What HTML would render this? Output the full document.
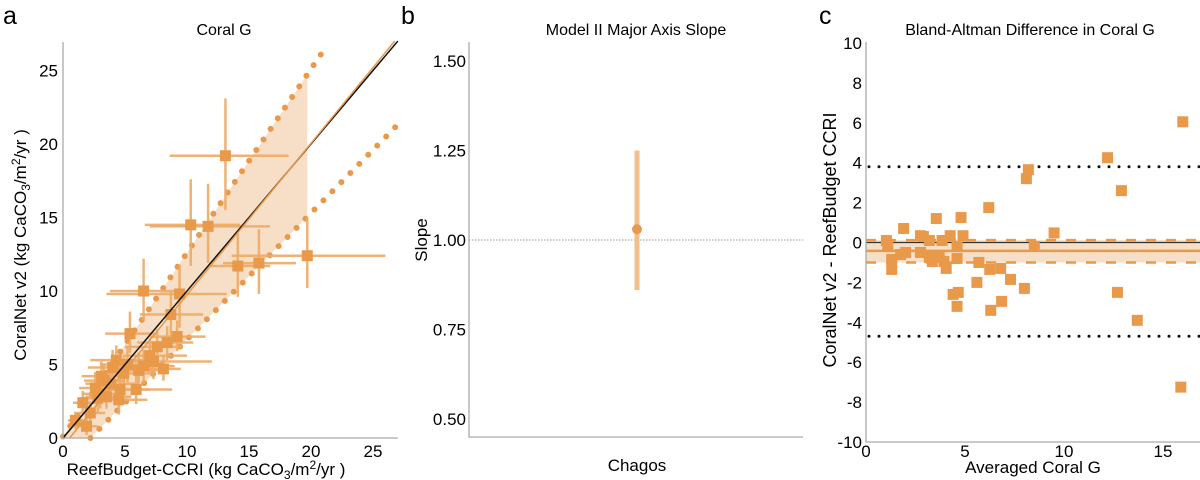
<!DOCTYPE html>
<html><head><meta charset="utf-8"><style>
body{margin:0;background:#fff;}
svg{display:block;font-family:"Liberation Sans",Arial,sans-serif;}
</style></head><body>
<svg id="chart" width="1200" height="480" viewBox="0 0 1200 480"></svg>
<script>
// ---------- Panel a data ----------
const aX   = [13.1,10.3,11.7,19.7,14.1,15.8,6.5,9.4,8.7,5.4,9.2,8.4,7.6,7.0,6.5,8.1,4.3,4.9,3.1,3.8,3.0,3.5,4.6,5.9,1.6,2.2,1.0,1.9,4.0,5.2,2.6,3.3,6.1,7.3,4.5,2.8];
const aY   = [19.2,14.5,14.4,12.4,11.7,11.9,10.0,9.8,8.4,7.1,6.9,6.5,6.2,5.6,4.9,4.7,5.3,4.4,4.2,3.7,3.0,2.8,3.3,3.3,2.4,1.7,1.2,0.8,4.8,5.0,3.4,3.9,4.6,5.2,2.6,2.7];
const aXlo = [8.6,6.6,7.0,13.6,11.9,12.9,3.8,3.5,6.2,3.4,7.0,6.0,5.0,4.8,4.0,6.5,2.2,2.5,1.5,1.8,1.5,1.8,2.8,3.6,0.8,1.2,0.4,1.0,2.0,3.0,1.3,1.7,4.0,5.2,2.5,1.4];
const aXhi = [18.2,14.3,16.7,26.0,16.7,18.8,9.4,13.2,11.3,7.5,11.5,10.5,9.6,10.0,9.0,9.5,6.5,7.2,5.0,5.8,4.8,5.5,7.0,8.8,2.6,3.4,1.8,2.8,6.4,7.8,4.2,5.0,8.2,12.0,6.8,4.5];
const aYlo = [15.5,11.7,11.9,10.2,9.6,9.8,8.0,7.5,6.9,5.8,5.9,5.3,5.0,4.5,3.7,3.9,4.2,3.4,3.1,2.6,2.0,2.0,2.3,2.3,1.6,0.9,0.6,0.2,3.5,3.8,2.4,2.8,3.5,4.0,1.6,1.7];
const aYhi = [23.1,17.6,17.3,15.0,13.9,14.2,12.2,11.8,10.0,8.6,8.0,7.6,7.4,6.8,6.0,5.6,6.3,5.5,5.2,4.8,4.0,3.8,4.4,4.3,3.2,2.5,1.8,1.4,6.0,6.2,4.4,5.0,5.8,6.4,3.6,3.8];
const aTicks = [0,5,10,15,20,25];
const fitSlope = 1.03, fitInt = -0.55;
const upSlope = 1.25, upInt = 0.1;
const loSlope = 0.86, loInt = -1.9;
const bandEnd = 19.7;
// ---------- Panel b data ----------
const bCats = ["Chagos"];
const bSlope = [1.03];
const bLo = [0.86];
const bHi = [1.25];
const bTicks = [0.50,0.75,1.00,1.25,1.50];
// ---------- Panel c data ----------
const cX = [16.0,12.2,8.2,8.1,12.9,6.2,3.55,4.8,1.9,9.5,2.75,2.9,4.25,4.9,3.84,3.2,1.03,1.1,8.5,4.6,2.0,2.75,1.75,1.3,3.2,3.35,3.7,3.93,4.6,5.7,1.3,4.05,6.25,6.8,5.6,7.3,8.0,12.7,4.4,4.66,4.6,6.85,6.3,13.7,15.9];
const cD = [6.05,4.25,3.65,3.2,2.6,1.75,1.2,1.25,0.7,0.48,0.34,0.3,0.34,0.34,0.1,0.1,0.1,-0.1,-0.2,-0.2,-0.5,-0.5,-0.6,-0.85,-0.75,-0.95,-0.75,-0.95,-0.8,-1.0,-1.35,-1.3,-1.35,-1.3,-2.0,-1.85,-2.3,-2.5,-2.6,-2.5,-3.2,-2.95,-3.4,-3.9,-7.25];
const cTicksY = [-10,-8,-6,-4,-2,0,2,4,6,8,10];
const cTicksX = [0,5,10,15];
const cMean = -0.42, cMeanHi = 0.12, cMeanLo = -1.0, cLoaHi = 3.8, cLoaLo = -4.7;

const NS="http://www.w3.org/2000/svg";
const svg=document.getElementById('chart');
function mk(tag,attrs,parent){const e=document.createElementNS(NS,tag);for(const k in attrs)e.setAttribute(k,attrs[k]);(parent||svg).appendChild(e);return e;}
function txt(s,attrs,parent){const e=mk('text',attrs,parent);e.textContent=s;return e;}
const OR="#E8994A", ORL="#EEAA66", BAND="#F6DFC6", AX="#aaaaaa";
const FS=17;

// ===== Panel a =====
const ax=v=>63+v*12.4, ay=v=>438-v*14.7;
const gA=mk('g',{});


let t=txt('a',{x:3,y:24,'font-size':25},gA);
t=txt('Coral G',{x:224,y:35,'font-size':16,'text-anchor':'middle'},gA);
let band=mk('polygon',{points:[ax(0)+','+ay(upInt),ax(bandEnd)+','+ay(upSlope*bandEnd+upInt),ax(bandEnd)+','+ay(loSlope*bandEnd+loInt),ax(-loInt/loSlope)+','+ay(0),ax(0)+','+ay(0)].join(' '),fill:BAND},gA);

l=mk('line',{x1:ax(0),y1:ay(upInt),x2:ax((26.8-upInt)/upSlope),y2:ay(26.8),stroke:OR,'stroke-width':6,'stroke-dasharray':'0 12.8','stroke-linecap':'round'},gA);

var l=mk('line',{x1:ax(-loInt/loSlope),y1:ay(0),x2:ax(27),y2:ay(loSlope*27+loInt),stroke:OR,'stroke-width':6,'stroke-dasharray':'0 12.8','stroke-linecap':'round'},gA);

for(let i=0;i<aX.length;i++){
  let e=mk('line',{x1:ax(aXlo[i]),y1:ay(aY[i]),x2:ax(aXhi[i]),y2:ay(aY[i]),stroke:ORL,'stroke-width':2.5,opacity:0.9},gA);
  
  e=mk('line',{x1:ax(aX[i]),y1:ay(aYlo[i]),x2:ax(aX[i]),y2:ay(aYhi[i]),stroke:ORL,'stroke-width':2.5,opacity:0.9},gA);
  
}
for(let i=0;i<aX.length;i++){
  const p=mk('rect',{x:ax(aX[i])-5.5,y:ay(aY[i])-5.5,width:11,height:11,fill:OR},gA);
  
}
l=mk('line',{x1:ax(0),y1:ay(0),x2:ax(27),y2:ay(27),stroke:'#111','stroke-width':1.5},gA);

l=mk('line',{x1:ax(-fitInt/fitSlope),y1:ay(0),x2:ax((27-fitInt)/fitSlope),y2:ay(27),stroke:OR,'stroke-width':1.5},gA);

l=mk('path',{d:`M63 42 V438 H398`,stroke:AX,fill:'none','stroke-width':1.3},gA);
aTicks.forEach(v=>{
  let tk=txt(String(v),{x:58,y:ay(v)+6,'font-size':FS,'text-anchor':'end'},gA);
  tk=txt(String(v),{x:ax(v),y:457,'font-size':FS,'text-anchor':'middle'},gA);
});
t=txt('',{x:206,y:475,'font-size':FS,'text-anchor':'middle'},gA);
t.innerHTML='ReefBudget-CCRI (kg  CaCO<tspan font-size="12" dy="4">3</tspan><tspan dy="-4">/m</tspan><tspan font-size="12" dy="-6">2</tspan><tspan dy="6">/yr )</tspan>';

t=txt('',{x:0,y:0,'font-size':FS,'text-anchor':'middle',transform:'translate(26,245) rotate(-90)'},gA);
t.innerHTML='CoralNet v2 (kg  CaCO<tspan font-size="12" dy="4">3</tspan><tspan dy="-4">/m</tspan><tspan font-size="12" dy="-6">2</tspan><tspan dy="6">/yr )</tspan>';


// ===== Panel b =====
const by=v=>240-(v-1)*358;
const gB=mk('g',{});


t=txt('b',{x:401,y:24,'font-size':25},gB);
t=txt('Model II Major Axis Slope',{x:636,y:35,'font-size':16,'text-anchor':'middle'},gB);
l=mk('line',{x1:469,y1:by(1),x2:803,y2:by(1),stroke:'#999','stroke-width':1,'stroke-dasharray':'1.5 1.5'},gB);

bCats.forEach((c,i)=>{
  const cx=637;
  let e=mk('line',{x1:cx,y1:by(bLo[i]),x2:cx,y2:by(bHi[i]),stroke:'#F2BE8A','stroke-width':5},gB);
  
  e=mk('circle',{cx:cx,cy:by(bSlope[i]),r:5,fill:OR},gB);
  
  e=txt(c,{x:cx,y:471,'font-size':FS,'text-anchor':'middle'},gB);
  
});
l=mk('path',{d:'M469 42 V437 H803',stroke:AX,fill:'none','stroke-width':1.3},gB);
bTicks.forEach(v=>{
  const tk=txt(v.toFixed(2),{x:466,y:by(v)+6,'font-size':FS,'text-anchor':'end'},gB);
});
t=txt('Slope',{x:0,y:0,'font-size':FS,'text-anchor':'middle',transform:'translate(427,240) rotate(-90)'},gB);


// ===== Panel c =====
const cxs=v=>866+v*19.8, cys=v=>242.5-v*19.95;
const gC=mk('g',{});


t=txt('c',{x:819,y:24,'font-size':25},gC);
t=txt('Bland-Altman Difference in Coral G',{x:1030,y:35,'font-size':16,'text-anchor':'middle'},gC);
let r=mk('rect',{x:866,y:cys(cMeanHi),width:334,height:cys(cMeanLo)-cys(cMeanHi),fill:BAND},gC);

[[cMeanHi,'mean-ci-upper'],[cMeanLo,'mean-ci-lower']].forEach(([v,n])=>{
  const e=mk('line',{x1:866,y1:cys(v),x2:1200,y2:cys(v),stroke:OR,'stroke-width':2.5,'stroke-dasharray':'10 10'},gC);
  
});
l=mk('line',{x1:866,y1:cys(0),x2:1200,y2:cys(0),stroke:'#333','stroke-width':1.3},gC);

l=mk('line',{x1:866,y1:cys(cMean),x2:1200,y2:cys(cMean),stroke:OR,'stroke-width':2.5},gC);

[[cLoaHi,'upper-limit-of-agreement'],[cLoaLo,'lower-limit-of-agreement']].forEach(([v,n])=>{
  const e=mk('line',{x1:869,y1:cys(v),x2:1200,y2:cys(v),stroke:'#111','stroke-width':3,'stroke-dasharray':'0 10','stroke-linecap':'round'},gC);
  
});
for(let i=0;i<cX.length;i++){
  const p=mk('rect',{x:cxs(cX[i])-5.5,y:cys(cD[i])-5.5,width:11,height:11,fill:OR},gC);
  
}
l=mk('path',{d:'M866 42 V442 H1200',stroke:AX,fill:'none','stroke-width':1.3},gC);
cTicksY.forEach(v=>{
  const tk=txt(String(v),{x:862,y:cys(v)+6,'font-size':FS,'text-anchor':'end'},gC);
});
cTicksX.forEach(v=>{
  const tk=txt(String(v),{x:cxs(v),y:457,'font-size':FS,'text-anchor':'middle'},gC);
});
t=txt('Averaged Coral G',{x:1033,y:473,'font-size':FS,'text-anchor':'middle'},gC);

t=txt('CoralNet v2 - ReefBudget CCRI',{x:0,y:0,'font-size':18,'text-anchor':'middle',transform:'translate(836,240) rotate(-90)'},gC);

</script>
</body></html>
